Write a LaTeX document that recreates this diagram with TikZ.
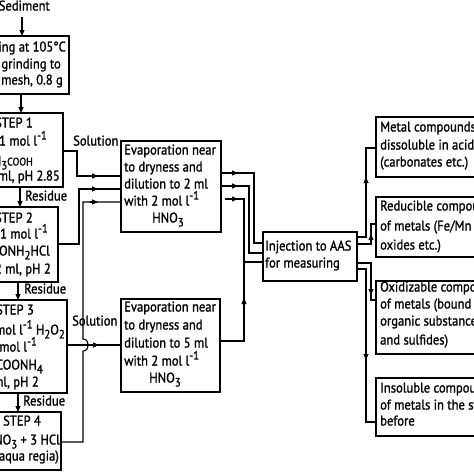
\documentclass[tikz,border=0pt]{standalone}
\usepackage{fontspec}
\setmainfont{PT Sans}[FakeStretch=0.9,FakeBold=1.3]
\usetikzlibrary{arrows.meta,fit,calc}
\newcommand\sups[1]{\raisebox{0.42em}{\fontsize{12pt}{12pt}\selectfont #1}}
\newcommand\subs[1]{\raisebox{-0.28em}{\fontsize{12pt}{12pt}\selectfont #1}}
\newcommand\lmo{l\sups{-1}}
\begin{document}
\begin{tikzpicture}[x=1pt,y=-1pt,
  box/.style={draw, line width=1.6pt, inner sep=0pt, outer sep=0pt},
  conn/.style={line width=1.1pt},
  tip/.style={-{Triangle[length=6pt,width=5pt]}, line width=1.1pt},
  txt/.style={inner sep=0pt, font=\fontsize{14pt}{17pt}\selectfont},
  R/.style={txt, anchor=mid east},
  L/.style={txt, anchor=mid west},
  C/.style={txt, anchor=mid},
]
\useasboundingbox (0,0) rectangle (474,474);
\fill[white] (0,0) rectangle (474,474);
\clip (0,0) rectangle (474,474);

% boxes
\node[box, fit={(-40,36)(69,94)}] (dry) {};
\node[box, fit={(-40,113)(63,187)}] (s1) {};
\node[box, fit={(-40,207)(58,282)}] (s2) {};
\node[box, fit={(-40,300)(67,393)}] (s3) {};
\node[box, fit={(-40,412)(61,470)}] (s4) {};
\node[box, fit={(121,141)(221,232)}] (e1) {};
\node[box, fit={(121,299)(220,392)}] (e2) {};
\node[box, fit={(263,232)(357,281)}] (inj) {};
\node[box, fit={(376,117)(520,177)}] (ra) {};
\node[box, fit={(376,197)(520,257)}] (rb) {};
\node[box, fit={(376,281)(520,354)}] (rc) {};
\node[box, fit={(376,378)(520,436)}] (rd) {};

% texts left column
\node[R] (sed) at (50,8) {Sediment};
\node[R] (d1) at (66,49) {Drying at 105°C};
\node[R] (d2) at (61,66) {and grinding to};
\node[R] (d3) at (63,82) {100 mesh, 0.8 g};

\node[R] (a1) at (33,125) {STEP 1};
\node[R] (a2) at (47,143) {0.1 mol \lmo};
\node[R] (a3) at (33,163) {CH\subs{3}{\fontsize{11pt}{11pt}\selectfont COOH}};
\node[R] (a4) at (60,178) {20 ml, pH 2.85};

\node[R] (b1) at (33,220) {STEP 2};
\node[R] (b2) at (48,236) {0.1 mol \lmo};
\node[R] (b3) at (50,253) {0.1 HONH\subs{2}HCl};
\node[R] (b4) at (51,271) {in 2 ml, pH 2};

\node[R] (c1) at (34,312) {STEP 3};
\node[R] (c2) at (65,332) {0.02 mol \lmo\ H\subs{2}O\subs{2}};
\node[R] (c3) at (37,349) {3.2 mol \lmo};
\node[R] (c4) at (43,367) {CH\subs{3}COONH\subs{4}};
\node[R] (c5) at (39,384) {in 5 ml, pH 2};

\node[C] (f1) at (22,423) {STEP 4};
\node[R] (f2) at (60,442) {HNO\subs{3} + 3 HCl};
\node[R] (f3) at (59,458) {(aqua regia)};

\node[L] (r1) at (25,198) {Residue};
\node[L] (r2) at (24,291) {Residue};
\node[L] (r3) at (23,403) {Residue};
\node[L] (so1) at (73,143) {Solution};
\node[L] (so2) at (72,323) {Solution};

% evaporation texts
\node[L] at (124,152) {Evaporation near};
\node[L] at (124,169) {to dryness and};
\node[L] at (124,186) {dilution to 2 ml};
\node[L] at (124,203) {with 2 mol \lmo};
\node[C] at (168,220) {HNO\subs{3}};

\node[L] at (124,309) {Evaporation near};
\node[L] at (124,327) {to dryness and};
\node[L] at (124,345) {dilution to 5 ml};
\node[L] at (124,363) {with 2 mol \lmo};
\node[C] at (165,380) {HNO\subs{3}};

\node[L] at (265,248) {Injection to AAS};
\node[L] at (265,265) {for measuring};

% right texts
\node[L] at (380,129) {Metal compounds};
\node[L] at (380,147) {dissoluble in acids};
\node[L] at (380,164) {(carbonates etc.)};
\node[L] at (380,208) {Reducible compounds};
\node[L] at (380,228) {of metals (Fe/Mn};
\node[L] at (380,247) {oxides etc.)};
\node[L] at (380,289) {Oxidizable compounds};
\node[L] at (380,306) {of metals (bound to};
\node[L] at (380,323) {organic substances};
\node[L] at (380,342) {and sulfides)};
\node[L] at (380,390) {Insoluble compounds};
\node[L] at (380,407) {of metals in the steps};
\node[L] at (380,423) {before};

% vertical chain arrows
\coordinate (c0) at (22,17);
\draw[tip] (c0) -- (c0 |- dry.north);
\draw[tip] (dry.south -| 21,0) -- (s1.north -| 21,0);
\draw[tip] (s1.south -| 20,0) -- (s2.north -| 20,0);
\draw[tip] (s2.south -| 18,0) -- (s3.north -| 18,0);
\draw[tip] (s3.south -| 18,0) -- (s4.north -| 18,0);

% steps to evaporation
\draw[conn] (s1.east |- 0,151) -- (77,151) -- (77,176) -- (e1.west |- 0,176);
\draw[tip] (90,176) -- (98,176);
\draw[conn] (s2.east |- 0,244) -- (79,244) -- (79,189) -- (e1.west |- 0,189);
\draw[tip] (90,189) -- (98,189);
\draw[conn] (s4.east |- 0,442) -- (83,442) -- (83,351)
  .. controls (90,351) and (90,339) .. (83,339) -- (83,202) -- (e1.west |- 0,202);
\draw[tip] (90,202) -- (98,202);
\draw[conn] (s3.east |- 0,345) -- (e2.west |- 0,345);
\draw[tip] (91,345) -- (99,345);

% evaporation to injection
\draw[conn] (e1.east |- 0,173) -- (254,173) -- (254,243) -- (inj.west |- 0,243);
\draw[tip] (230,173) -- (238,173);
\draw[conn] (e1.east |- 0,186) -- (249,186) -- (249,253) -- (inj.west |- 0,253);
\draw[tip] (230,186) -- (238,186);
\draw[conn] ($(e1.east |- 0,199)+(4,0)$) -- (244,199) -- (244,262) -- (inj.west |- 0,262);
\draw[tip] (230,199) -- (238,199);
\draw[conn] (e2.east |- 0,341) -- (244,341) -- (244,262);
\draw[tip] (244,306) -- (244,298);

% injection to results
\draw[conn] (inj.east |- 0,237) -- (366,237) -- (366,148) -- (ra.west |- 0,148);
\draw[tip] (366,185) -- (366,177);
\draw[conn] (inj.east |- 0,244) -- (371,244) -- (371,224) -- (rb.west |- 0,224);
\draw[tip] (371,241) -- (371,234);
\draw[conn] (inj.east |- 0,263) -- (371,263) -- (371,300) -- (rc.west |- 0,300);
\draw[tip] (371,287) -- (371,295);
\draw[conn] (inj.east |- 0,269) -- (366,269) -- (366,422) -- (rd.west |- 0,422);
\draw[tip] (366,352) -- (366,360);
\end{tikzpicture}
\end{document}
